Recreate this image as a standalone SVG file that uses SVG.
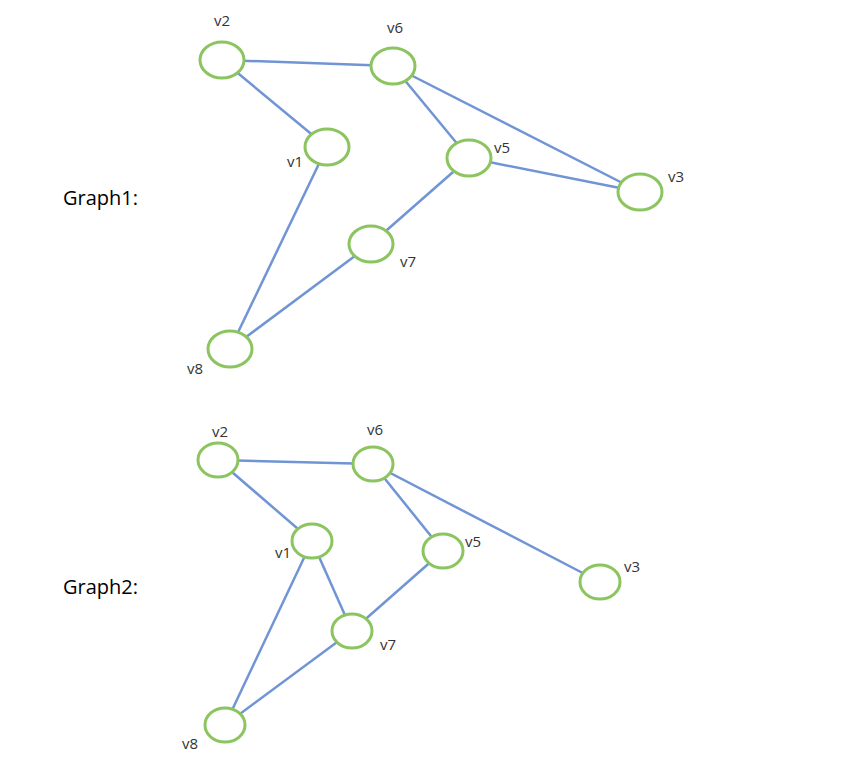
<svg xmlns="http://www.w3.org/2000/svg" width="850" height="776" viewBox="0 0 850 776">
<style>
.n{fill:#fff;stroke:#8cc460;stroke-width:3}
.e{stroke:#7094d4;stroke-width:2.5;fill:none}
.l{font-family:"Open Sans",sans-serif;font-size:15px;fill:#333;text-anchor:middle}
.g{font-family:"Open Sans",sans-serif;font-size:20px;fill:#000}
</style>
<rect width="850" height="776" fill="#fff"/>
<text class="g" x="63" y="205">Graph1:</text>
<text class="g" x="63" y="594">Graph2:</text>
<g id="edges">
<line class="e" x1="222" y1="60" x2="393" y2="66"/>
<line class="e" x1="222" y1="60" x2="327" y2="147"/>
<line class="e" x1="327" y1="147" x2="230" y2="349"/>
<line class="e" x1="230" y1="349" x2="371" y2="244"/>
<line class="e" x1="371" y1="244" x2="469" y2="158"/>
<line class="e" x1="469" y1="158" x2="393" y2="66"/>
<line class="e" x1="393" y1="66" x2="640" y2="192"/>
<line class="e" x1="469" y1="158" x2="640" y2="192"/>
<line class="e" x1="218" y1="460" x2="373" y2="464"/>
<line class="e" x1="218" y1="460" x2="312" y2="541"/>
<line class="e" x1="312" y1="541" x2="225" y2="725"/>
<line class="e" x1="312" y1="541" x2="352" y2="631"/>
<line class="e" x1="225" y1="725" x2="352" y2="631"/>
<line class="e" x1="352" y1="631" x2="443" y2="551"/>
<line class="e" x1="443" y1="551" x2="373" y2="464"/>
<line class="e" x1="373" y1="464" x2="600" y2="582"/>
</g>
<g id="g1v2"><ellipse class="n" cx="222" cy="60" rx="22" ry="18"/><text class="l" x="222" y="26">v2</text></g>
<g id="g1v6"><ellipse class="n" cx="393" cy="66" rx="22" ry="18"/><text class="l" x="395" y="33">v6</text></g>
<g id="g1v1"><ellipse class="n" cx="327" cy="147" rx="22" ry="18"/><text class="l" x="295" y="167">v1</text></g>
<g id="g1v5"><ellipse class="n" cx="469" cy="158" rx="22" ry="18"/><text class="l" x="502" y="153">v5</text></g>
<g id="g1v3"><ellipse class="n" cx="640" cy="192" rx="22" ry="18"/><text class="l" x="676" y="182">v3</text></g>
<g id="g1v7"><ellipse class="n" cx="371" cy="244" rx="22" ry="18"/><text class="l" x="408" y="267">v7</text></g>
<g id="g1v8"><ellipse class="n" cx="230" cy="349" rx="22" ry="18"/><text class="l" x="195" y="374">v8</text></g>
<g id="g2v2"><ellipse class="n" cx="218" cy="460" rx="20" ry="17"/><text class="l" x="220" y="437">v2</text></g>
<g id="g2v6"><ellipse class="n" cx="373" cy="464" rx="20" ry="17"/><text class="l" x="375" y="435">v6</text></g>
<g id="g2v1"><ellipse class="n" cx="312" cy="541" rx="20" ry="17"/><text class="l" x="283" y="558">v1</text></g>
<g id="g2v5"><ellipse class="n" cx="443" cy="551" rx="20" ry="17"/><text class="l" x="473" y="547">v5</text></g>
<g id="g2v3"><ellipse class="n" cx="600" cy="582" rx="20" ry="17"/><text class="l" x="632" y="572">v3</text></g>
<g id="g2v7"><ellipse class="n" cx="352" cy="631" rx="20" ry="17"/><text class="l" x="388" y="650">v7</text></g>
<g id="g2v8"><ellipse class="n" cx="225" cy="725" rx="20" ry="17"/><text class="l" x="190" y="749">v8</text></g>
</svg>
